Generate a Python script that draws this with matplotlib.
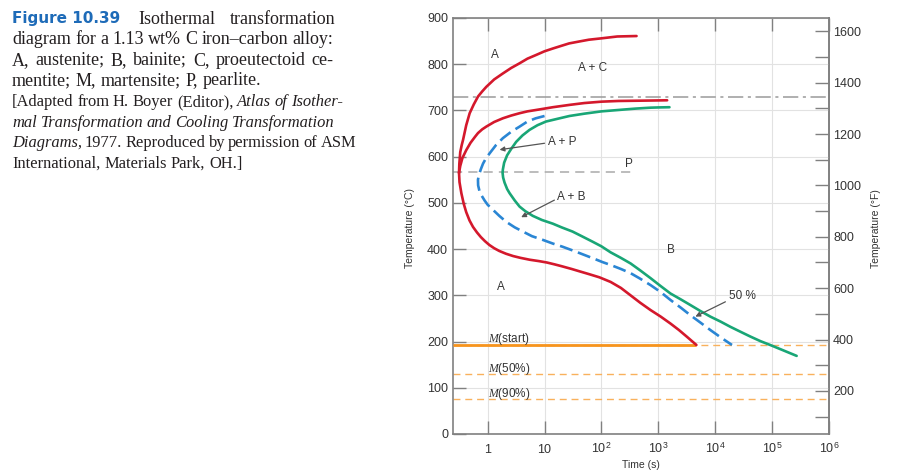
import matplotlib
matplotlib.use("Agg")
import matplotlib.pyplot as plt
from matplotlib.ticker import NullLocator, FixedLocator, FixedFormatter

plt.rcParams['font.family'] = ['Liberation Sans', 'DejaVu Sans']
plt.rcParams['mathtext.fontset'] = 'custom'
plt.rcParams['mathtext.rm'] = 'Liberation Sans'
plt.rcParams['mathtext.it'] = 'Liberation Serif:italic'

# ---------------- data (time in s, temperature in degC) ----------------
red_ac_t = [0.314, 0.318, 0.33, 0.35, 0.369, 0.42, 0.483, 0.57, 0.676, 0.8, 0.946, 1.3, 1.85,
            2.6, 3.64, 5, 7.1, 10, 14, 20, 27, 40, 60, 100, 190, 414]
red_ac_T = [565, 585, 610, 625, 636, 668, 694, 713, 730, 741, 751, 767, 780,
            792, 802, 812, 820, 828, 834, 840, 845, 849, 853, 856, 860, 861]

red_p_t = [0.314, 0.33, 0.36, 0.42, 0.5, 0.6, 0.676, 0.8, 0.946, 1.3, 1.85, 2.6, 3.64, 5,
           7.1, 10, 14, 27.4, 50, 100, 200, 400, 800, 1429]
red_p_T = [565, 580, 597, 614, 630, 643, 651, 659, 665, 675, 683, 689, 694, 698,
           701, 704, 707, 712, 716, 719, 720.5, 721, 721.5, 722]

red_low_t = [0.314, 0.32, 0.345, 0.38, 0.42, 0.48, 0.553, 0.65, 0.76, 0.9, 1.07, 1.3, 1.6,
             2.1, 2.8, 3.8, 5.5, 8, 11, 15, 20, 30, 41, 60, 92, 145, 220, 325, 480, 733,
             1100, 1633, 2300, 3206, 4670]
red_low_T = [565, 545, 521, 498, 480, 462, 448, 436, 426, 417, 409, 402, 396,
             390, 385, 381, 377, 374, 371, 367, 363, 357, 352, 346, 339, 329, 316, 300, 284, 268,
             254, 239, 225, 210, 192.6]

blue_t = [10, 7, 5, 3.64, 2.6, 1.85, 1.4, 1.08, 0.92, 0.83, 0.76, 0.7, 0.676, 0.68, 0.72, 0.79,
          0.886, 1.0, 1.24, 1.6, 2.12, 3, 4.16, 6, 9.3, 14, 20.9, 33, 53.5, 75, 104, 150, 220,
          325, 480, 733, 1100, 1633, 2500, 3660, 5500, 8200, 12500, 19700]
blue_T = [688, 683, 676, 665, 654, 640, 625, 607, 595, 585, 573, 560, 550, 538, 525, 515,
          505, 496, 485, 472, 459, 447, 438, 428, 420, 412, 405, 396, 386, 379, 372, 365, 357,
          348, 336, 322, 307, 290, 273, 257, 241, 225, 209, 192.6]

green_t = [1570, 1000, 733, 400, 250, 100, 50, 27.4, 17, 10.6, 7.5, 5.45, 4.1, 3.17, 2.6, 2.2,
           1.95, 1.85, 1.83, 1.87, 1.98, 2.2, 2.43, 3, 3.64, 4.6, 6.2, 9, 14, 20, 31, 45, 70,
           100, 145, 220, 325, 480, 733, 1100, 1633, 2500, 3660, 5500, 8200, 12500, 18400,
           28000, 41200, 62000, 92400, 150000, 270000]
green_T = [707, 706.5, 706, 704, 702, 698, 693, 688, 682, 676, 668, 658, 646, 632, 617, 603,
           587, 572, 565, 555, 544, 530, 521, 505, 492, 482, 472, 463, 455, 447, 438, 428, 416,
           406, 393, 381, 369, 354, 337, 320, 304, 291, 279, 266, 254, 243, 232,
           221, 211, 201, 192.6, 182, 169]

eutectoid_T = 730
pearlite_T = 566
pearlite_end_t = 325
m_start_T = 192.6
m_start_end_t = 4670
m50_T = 130
m90_T = 76

xtick_vals = [1, 10, 100, 1000, 1e4, 1e5, 1e6]
xtick_labels = ['1', '10', '$10^{2}$', '$10^{3}$', '$10^{4}$', '$10^{5}$', '$10^{6}$']
ytick_vals = list(range(0, 1000, 100))
ftick_vals = list(range(100, 1700, 100))
ftick_labels = [str(v) if v % 200 == 0 else '' for v in ftick_vals]

caption = [
    [("Isothermal transformation", 'rm')],
    [("diagram for a 1.13 wt% C iron\u2013carbon alloy:", 'rm')],
    [("A, austenite; B, bainite; C, proeutectoid ce-", 'rm')],
    [("mentite; M, martensite; P, pearlite.", 'rm')],
    [("[Adapted from H. Boyer (Editor),", 'rm2'), ("Atlas of Isother-", 'it2')],
    [("mal Transformation and Cooling Transformation", 'it2')],
    [("Diagrams,", 'it2'), ("1977. Reproduced by permission of ASM", 'rm2')],
    [("International, Materials Park, OH.]", 'rm2')],
]
caption_right = [335, 333, 333, None, 343, 335, 356, None]

W, H = 902, 475
fig = plt.figure(figsize=(W / 100, H / 100), dpi=100)
ax = fig.add_axes([453 / W, 1 - 434 / H, (829 - 453) / W, (434 - 18) / H])

RED = '#d4182c'
BLUE = '#2a86d4'
GREEN = '#19a676'
ORANGE = '#f7941d'
GRAY = '#9a9a9a'
TXT = '#333333'

ax.set_xscale('log')
ax.set_xlim(0.246, 1e6)
ax.set_ylim(0, 900)

ax.grid(True, which='major', color='#e2e2e2', lw=0.8, zorder=0)
ax.set_axisbelow(True)

# reference lines
ax.axhline(eutectoid_T, color=GRAY, lw=1.1, dashes=(10, 3, 2, 3), zorder=2)
ax.plot([0.246, pearlite_end_t], [pearlite_T, pearlite_T], color='#aaaaaa', lw=1.1,
        dashes=(6, 4), zorder=2)
for T in (m_start_T, m50_T, m90_T):
    ax.axhline(T, color='#f9b15c', lw=1.0, dashes=(5, 3.5), zorder=2)
ax.plot([0.246, m_start_end_t], [m_start_T, m_start_T], color=ORANGE, lw=2.0,
        solid_capstyle='butt', zorder=3)

# curves
ckw = dict(lw=1.9, zorder=4, solid_capstyle='round', solid_joinstyle='round')
ax.plot(red_ac_t, red_ac_T, color=RED, **ckw)
ax.plot(red_p_t, red_p_T, color=RED, **ckw)
ax.plot(red_low_t, red_low_T, color=RED, **ckw)
ax.plot(blue_t, blue_T, color=BLUE, lw=1.9, dashes=(5, 2.2), zorder=4)
ax.plot(green_t, green_T, color=GREEN, **ckw)

# labels in plot
lab = dict(color=TXT, fontsize=8.5, ha='center', va='center', zorder=6)
ax.text(1.36, 820, 'A', **lab)
ax.text(69, 791, 'A + C', **lab)
ax.text(303, 584, 'P', **lab)
ax.text(1.71, 319, 'A', **lab)
ax.text(1633, 398, 'B', **lab)
ax.text(11.4, 632, 'A + P', color=TXT, fontsize=8.5, ha='left', va='center', zorder=6)
ax.text(16.5, 512, 'A + B', color=TXT, fontsize=8.5, ha='left', va='center', zorder=6)
ax.text(17500, 299, '50 %', color=TXT, fontsize=8.5, ha='left', va='center', zorder=6)

arr = dict(arrowstyle='-|>', color='#555555', lw=0.9, mutation_scale=7, shrinkA=0, shrinkB=0)
ax.annotate('', xy=(1.62, 615), xytext=(10, 629), arrowprops=arr, zorder=6)
ax.annotate('', xy=(3.88, 469), xytext=(14.9, 506), arrowprops=arr, zorder=6)
ax.annotate('', xy=(4480, 254), xytext=(15100, 286), arrowprops=arr, zorder=6)

mlab = dict(color=TXT, fontsize=8.5, ha='left', va='baseline', zorder=6)
ax.text(1.0, 200, '$M$(start)', **mlab)
ax.text(1.0, 135, '$M$(50%)', **mlab)
ax.text(1.0, 80.5, '$M$(90%)', **mlab)

# axes styling
for s in ax.spines.values():
    s.set_color('#808080')
    s.set_linewidth(1.2)
ax.xaxis.set_major_locator(FixedLocator(xtick_vals))
ax.xaxis.set_major_formatter(FixedFormatter(xtick_labels))
ax.xaxis.set_minor_locator(NullLocator())
ax.set_yticks(ytick_vals)
ax.tick_params(axis='both', which='major', direction='in', length=9.5, width=1.0,
               color='#808080', labelcolor=TXT, labelsize=9)
ax.tick_params(axis='x', top=True, pad=13.5)
ax.tick_params(axis='y', left=True, right=False, pad=3.6)
for t in ax.get_xticklabels():
    t.set_verticalalignment('baseline')

sec = ax.secondary_yaxis('right', functions=(lambda c: c * 9 / 5 + 32, lambda f: (f - 32) * 5 / 9))
sec.set_yticks(ftick_vals)
sec.set_yticklabels(ftick_labels)
sec.tick_params(direction='in', length=10, width=1.0, color='#808080', labelcolor=TXT,
                labelsize=9, pad=3)
sec.spines['right'].set_color('#808080')
sec.spines['right'].set_linewidth(1.2)

fig.text(410 / W, 1 - 228 / H, 'Temperature (\u00b0C)', rotation=90, ha='center', va='center',
         fontsize=7.5, color=TXT)
fig.text(876 / W, 1 - 229 / H, 'Temperature (\u00b0F)', rotation=90, ha='center', va='center',
         fontsize=7.5, color=TXT)
fig.text(641 / W, 1 - 465 / H, 'Time (s)', ha='center', va='center', fontsize=7.5, color=TXT)

# caption (justified word by word)
fig.canvas.draw()
renderer = fig.canvas.get_renderer()
CAP = '#231f20'
styles = {
    'rm': dict(family=['Liberation Serif'], color=CAP, fontsize=13.0),
    'rm2': dict(family=['Liberation Serif'], color=CAP, fontsize=11.9),
    'it2': dict(family=['Liberation Serif'], style='italic', color=CAP, fontsize=11.9),
}
base0 = 23.5
step = 20.6
fig.text(12 / W, 1 - base0 / H, 'Figure 10.39', ha='left', va='baseline',
         family=['DejaVu Sans'], weight='bold', color='#1e6bb8', fontsize=11)
for i, line in enumerate(caption):
    yb = base0 + step * i
    x0 = 138 if i == 0 else 12
    words = []
    for s, st in line:
        for w in s.split(' '):
            t = fig.text(0, 1 - yb / H, w, ha='left', va='baseline', **styles[st])
            wd = t.get_window_extent(renderer).width
            words.append((t, wd, st))
    total = sum(wd for _, wd, _ in words)
    if caption_right[i] is None:
        sp = fig.text(0, 0, 'x x', **styles[line[0][1]])
        sx = fig.text(0, 0, 'xx', **styles[line[0][1]])
        gap = sp.get_window_extent(renderer).width - sx.get_window_extent(renderer).width
        sp.remove()
        sx.remove()
    else:
        gap = (caption_right[i] - x0 - total) / max(len(words) - 1, 1)
    x = x0
    for t, wd, _ in words:
        t.set_x(x / W)
        x += wd + gap

fig.savefig('out.png', dpi=100)
